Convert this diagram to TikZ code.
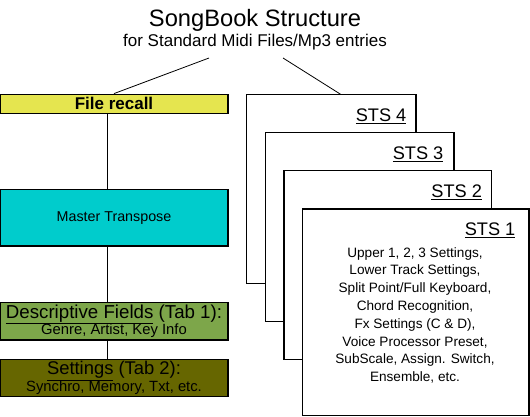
\documentclass[tikz,border=0pt]{standalone}
\usepackage{fontspec}
\setmainfont{Liberation Sans}
\usepackage{xcolor}
\definecolor{recallcol}{rgb}{0.90,0.90,0.31}
\definecolor{mastercol}{rgb}{0,0.8,0.8}
\definecolor{desccol}{rgb}{0.49,0.65,0.29}
\definecolor{settcol}{rgb}{0.4,0.4,0}

\begin{document}
\begin{tikzpicture}[x=1pt,y=-1pt,
		box/.style={draw=black, line width=1.2pt, inner sep=0pt, minimum width=228pt},
		sts/.style={draw=black, fill=white, line width=1.2pt, inner sep=0pt},
		ststitle/.style={anchor=east, inner sep=0pt, font=\fontsize{18.2}{20}\selectfont},
		link/.style={line width=0.8pt}]
	
	% Cadre de l'image
	\useasboundingbox (0,0) rectangle (530,417);
	
	% Titre
	\node (title) at (255,20) {\fontsize{23.7}{28}\selectfont SongBook Structure};
	\node (subtitle) at (255,42) {\fontsize{17}{19}\selectfont for Standard Midi Files/Mp3 entries};
	\coordinate (tl) at (209,58);
	\coordinate (tr) at (283,58);
	
	% Colonne de gauche
	\node[box, fill=recallcol, minimum height=19pt] (recall) at (114,103.7)
		{\fontsize{17}{19}\selectfont\bfseries File recall};
	\node[box, fill=mastercol, minimum height=56.7pt] (master) at (114,217.7)
		{\fontsize{14.3}{16}\selectfont Master Transpose};
	\node[box, fill=desccol, minimum height=37.7pt, align=center] (desc) at (114,321.2)
		{\fontsize{18.7}{17.5}\selectfont \underline{Descriptive Fields} (Tab 1):\\[-1pt]
		 \fontsize{14.8}{17}\selectfont Genre, Artist, Key Info};
	\node[box, fill=settcol, minimum height=37.4pt, align=center] (sett) at (114,378)
		{\fontsize{18.4}{17.5}\selectfont \underline{Settings} (Tab 2):\\[-1pt]
		 \fontsize{14.8}{17}\selectfont Synchro, Memory, Txt, etc.};
	
	% Pile des STS (de l'arriere vers l'avant)
	\node[sts, minimum width=169.3pt, minimum height=188.6pt] (sts4) at (331.3,189) {};
	\node[ststitle] (lab4) at ([xshift=-10pt,yshift=-22pt]sts4.north east) {\underline{STS 4}};
	\node[sts, minimum width=188.3pt, minimum height=188.6pt] (sts3) at (359.8,227) {};
	\node[ststitle] (lab3) at ([xshift=-11pt,yshift=-22pt]sts3.north east) {\underline{STS 3}};
	\node[sts, minimum width=207.7pt, minimum height=188.6pt] (sts2) at (387.8,265) {};
	\node[ststitle] (lab2) at ([xshift=-10pt,yshift=-22pt]sts2.north east) {\underline{STS 2}};
	\node[sts, minimum width=226.3pt, minimum height=206.7pt] (sts1) at (415.8,312.3) {};
	\node[ststitle] (lab1) at ([xshift=-14pt,yshift=-21.7pt]sts1.north east) {\underline{STS 1}};
	
	% Contenu de STS 1
	\node[align=center, inner sep=0pt, font=\fontsize{13.6}{17.8}\selectfont] (stsbody) at (415,315.3)
		{Upper 1, 2, 3 Settings,\\
		 Lower Track Settings,\\
		 Split Point/Full Keyboard,\\
		 Chord Recognition,\\
		 Fx Settings (C \& D),\\
		 Voice Processor Preset,\\
		 SubScale, Assign. Switch,\\
		 Ensemble, etc.};
	
	% Liens
	\draw[link] (tl) -- (recall.north);
	\draw[link] (tr) -- ([xshift=9pt]sts4.north);
	\draw[link] ([xshift=-7pt]recall.south) -- ([xshift=-7pt]master.north);
	\draw[link] ([xshift=-7pt]master.south) -- ([xshift=-7pt]desc.north);
	\draw[link] ([xshift=-7pt]desc.south) -- ([xshift=-7pt]sett.north);
	
\end{tikzpicture}
\end{document}
